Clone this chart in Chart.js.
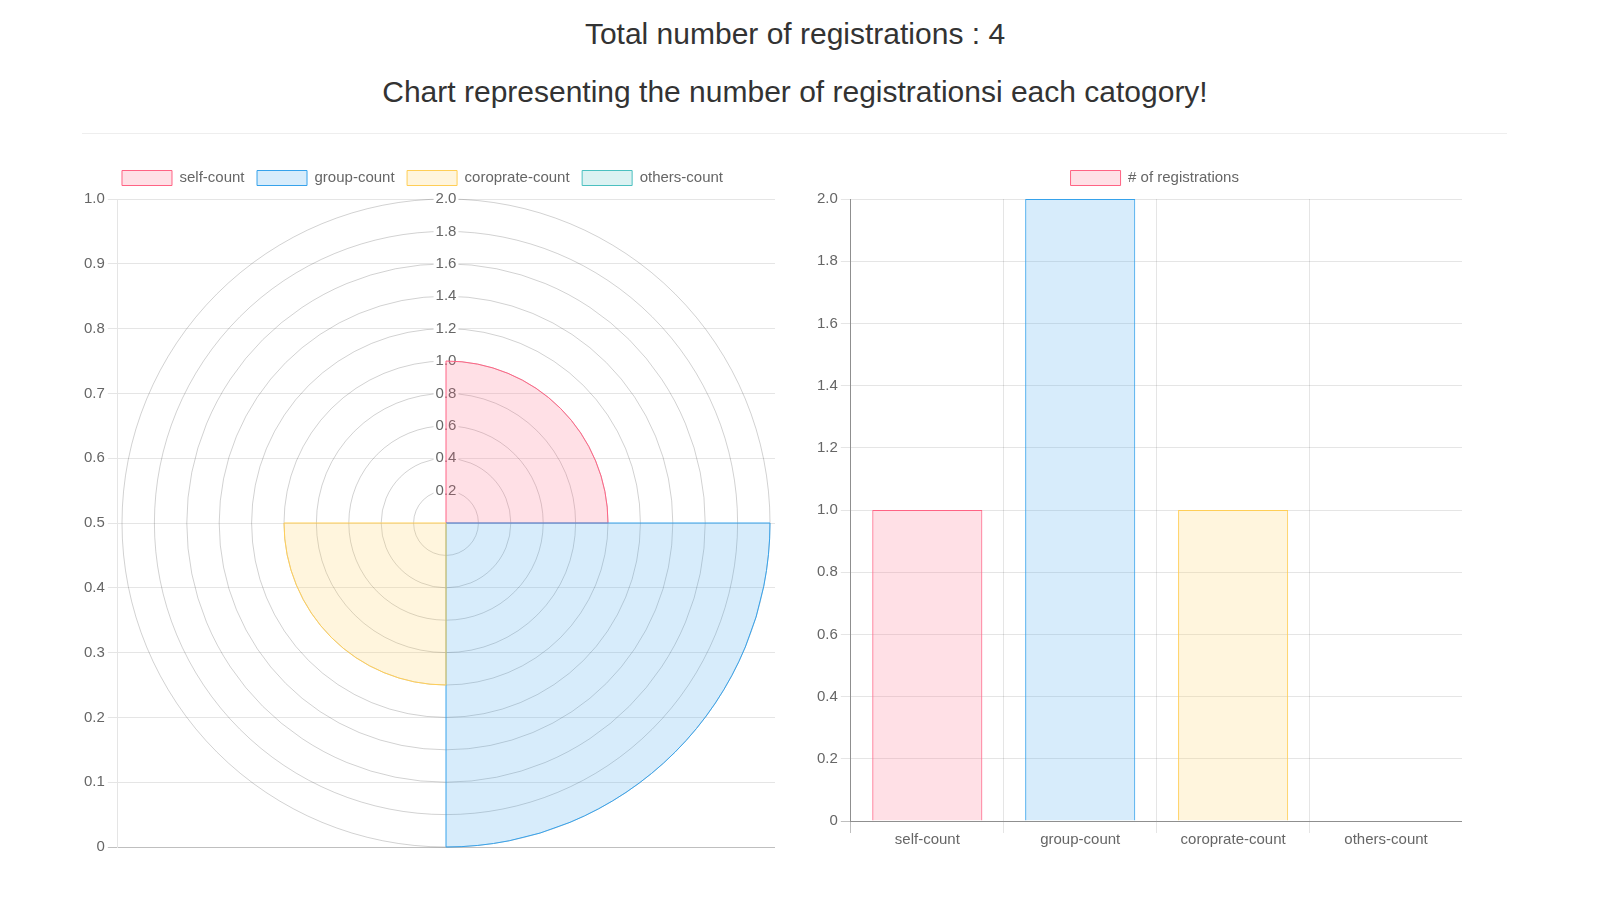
<!DOCTYPE html>
<html>
<head>
<meta charset="utf-8">
<script src="https://cdn.jsdelivr.net/npm/chart.js@4"></script>
<style>
  body { margin: 0; background: #fff; font-family: "Helvetica Neue", Helvetica, Arial, sans-serif; color: #333; }
  h3 { position: absolute; left: 0; width: 1590px; margin: 0; text-align: center; font-size: 30px; font-weight: 400; line-height: 36px; }
  #t1 { top: 16px; }
  #t2 { top: 74px; }
  hr { position: absolute; top: 133px; left: 82px; width: 1425px; margin: 0; border: 0; border-top: 1px solid #eee; }
  .box { position: absolute; top: 158px; }
  #leftBox { left: 81px; width: 694px; height: 701px; }
  #rightBox { left: 813.5px; width: 648.5px; height: 689px; }
</style>
</head>
<body>
<h3 id="t1">Total number of registrations : 4</h3>
<h3 id="t2">Chart representing the number of registrationsi each catogory!</h3>
<hr>
<div class="box" id="leftBox"><canvas id="polarChart"></canvas></div>
<div class="box" id="rightBox"><canvas id="barChart"></canvas></div>
<script>
const categories = ["self-count", "group-count", "coroprate-count", "others-count"];
const counts = [1, 2, 1, 0];
const fills = ["rgba(255, 99, 132, 0.2)", "rgba(54, 162, 235, 0.2)", "rgba(255, 206, 86, 0.2)", "rgba(75, 192, 192, 0.2)"];
const borders = ["rgba(255, 99, 132, 1)", "rgba(54, 162, 235, 1)", "rgba(255, 206, 86, 1)", "rgba(75, 192, 192, 1)"];
const seriesLabel = "# of registrations";

Chart.defaults.font.family = "'Helvetica Neue', Helvetica, Arial, sans-serif";
Chart.defaults.font.size = 15;
Chart.defaults.color = "#666";
Chart.defaults.animation = false;
Chart.defaults.plugins.tooltip.enabled = false;

const light = "rgba(0, 0, 0, 0.1)";
const dark = "rgba(0, 0, 0, 0.25)";

function fmt(v){
    return v === 0 ? "0" : v.toFixed(1);
}

// legend: a bit more room under it, and nudge it sideways
function legendTweak(dx){
    return {
        id: "legendTweak",
        beforeInit(chart){
            const fit = chart.legend.fit;
            chart.legend.fit = function(){
                fit.bind(chart.legend)();
                this.height += 3.5;
            };
        },
        afterLayout(chart){
            chart.legend.left += dx;
            chart.legend.right += dx;
        }
    };
}

// let the radial scale use the whole chart area, like the old polar chart did
const fullRadius = {
    id: "fullRadius",
    afterLayout(chart){
        const r = chart.scales.r;
        const a = chart.chartArea;
        r.xCenter = Math.floor((a.left + a.right) / 2);
        r.yCenter = Math.floor((a.top + a.bottom) / 2);
        r.drawingArea = Math.floor(Math.min(a.right - a.left, a.bottom - a.top) / 2);
    }
};

const legendLabels = {
    boxWidth: 50,
    boxHeight: 15,
    padding: 12.5
};

new Chart(
    document.getElementById("polarChart"),
    {
        type: "polarArea",
        data: {
            labels: categories,
            datasets: [{
                data: counts,
                backgroundColor: fills,
                borderColor: borders,
                borderWidth: 1
            }]
        },
        options: {
            responsive: true,
            maintainAspectRatio: false,
            plugins: {
                legend: { labels: legendLabels }
            },
            scales: {
                r: {
                    min: 0,
                    max: 2,
                    ticks: {
                        stepSize: 0.2,
                        callback: fmt,
                        color: "#666",
                        backdropColor: "#fff",
                        backdropPadding: 2
                    },
                    grid: { color: "rgba(0, 0, 0, 0.18)" }
                },
                y: {
                    type: "linear",
                    position: "left",
                    min: 0,
                    max: 1,
                    ticks: { stepSize: 0.1, callback: fmt, padding: 3 },
                    grid: {
                        tickLength: 10,
                        color: ctx => (ctx.tick && ctx.tick.value === 0) ? dark : light
                    },
                    border: { color: light }
                }
            }
        },
        plugins: [legendTweak(-5.5), fullRadius]
    }
);

new Chart(
    document.getElementById("barChart"),
    {
        type: "bar",
        data: {
            labels: categories,
            datasets: [{
                label: seriesLabel,
                data: counts,
                backgroundColor: fills,
                borderColor: borders,
                borderWidth: 1
            }]
        },
        options: {
            responsive: true,
            maintainAspectRatio: false,
            plugins: {
                legend: {
                    labels: {
                        ...legendLabels,
                        generateLabels: () => [{
                            text: seriesLabel,
                            fillStyle: fills[0],
                            strokeStyle: borders[0],
                            fontColor: "#666",
                            lineWidth: 1,
                            hidden: false,
                            datasetIndex: 0
                        }]
                    }
                }
            },
            scales: {
                x: {
                    ticks: { padding: -2 },
                    grid: {
                        tickLength: 12,
                        color: ctx => ctx.type !== "tick" ? "transparent" : (ctx.index === 0 ? dark : light)
                    },
                    border: { color: dark }
                },
                y: {
                    min: 0,
                    max: 2,
                    ticks: { stepSize: 0.2, callback: fmt, padding: 3 },
                    grid: {
                        tickLength: 10,
                        color: ctx => (ctx.tick && ctx.tick.value === 0) ? dark : light
                    },
                    border: { color: dark }
                }
            }
        },
        plugins: [legendTweak(16.5)]
    }
);
</script>
</body>
</html>
